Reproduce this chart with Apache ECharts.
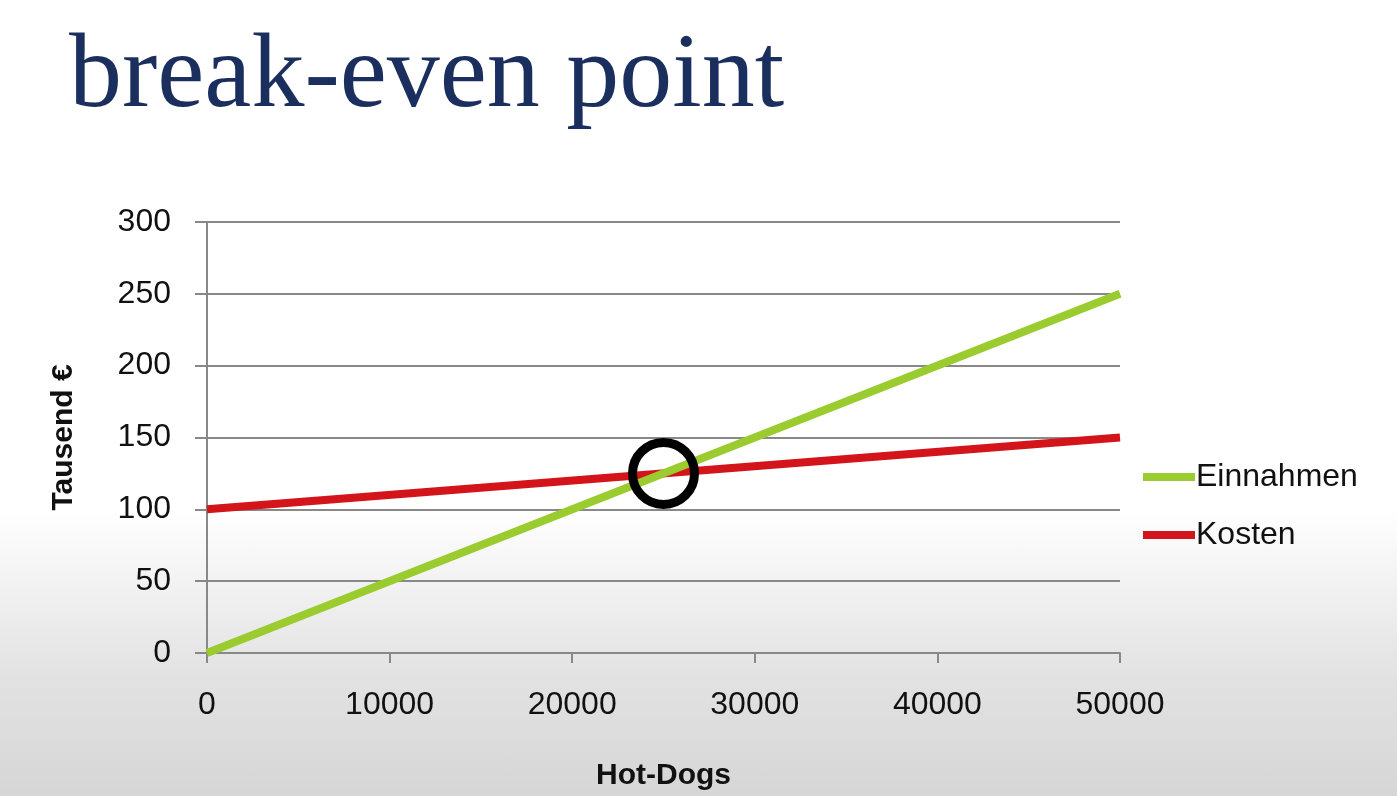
<!DOCTYPE html>
<html>
<head>
<meta charset="utf-8">
<script src="https://cdn.jsdelivr.net/npm/echarts@6/dist/echarts.min.js"></script>
<style>
  html, body { margin: 0; padding: 0; }
  body { background: linear-gradient(to bottom, #ffffff 0%, #ffffff 64%, #e2e2e2 85%, #d6d6d6 100%); }
  #chart { width: 1397px; height: 796px; }
</style>
</head>
<body>
<div id="chart"></div>
<script>
// Hot-Dogs (x) and Tausend € (y)
var hotDogs = [0, 50000];
var einnahmen = [0, 250];
var kosten = [100, 150];
var breakEven = [25000, 125];

function pairs(xs, ys) {
    var out = [];
    for (var i = 0; i < xs.length; i++) out.push([xs[i], ys[i]]);
    return out;
}

var myChart = echarts.init(document.getElementById('chart'));
myChart.setOption({
    title: {
        text: 'break-even point',
        left: 64,
        top: 20,
        textStyle: {
            fontFamily: 'Liberation Serif',
            fontWeight: 'normal',
            fontSize: 106,
            color: '#1b2f5e'
        }
    },
    legend: {
        orient: 'vertical',
        left: 1138,
        top: 456,
        itemGap: 26,
        itemWidth: 52,
        itemHeight: 8,
        icon: 'rect',
        textStyle: { fontFamily: 'Liberation Sans', fontSize: 32, color: '#111', padding: [0, 0, 0, -4] },
        data: ['Einnahmen', 'Kosten']
    },
    grid: { left: 207, right: 277, top: 222, bottom: 135 },
    xAxis: {
        type: 'value',
        min: 0, max: 50000, interval: 10000,
        name: 'Hot-Dogs',
        nameLocation: 'middle',
        nameGap: 108,
        nameTextStyle: { fontFamily: 'Liberation Sans', fontWeight: 'bold', fontSize: 30, color: '#111' },
        axisLine: { show: true, lineStyle: { color: '#888', width: 2 } },
        axisTick: { show: true, length: 10, lineStyle: { color: '#888', width: 2 } },
        axisLabel: { fontFamily: 'Liberation Sans', fontSize: 32, color: '#111', margin: 36,
            formatter: function (v) { return String(v); } },
        splitLine: { show: false }
    },
    yAxis: {
        type: 'value',
        min: 0, max: 300, interval: 50,
        name: 'Tausend €',
        nameLocation: 'middle',
        nameGap: 128,
        nameTextStyle: { fontFamily: 'Liberation Sans', fontWeight: 'bold', fontSize: 30, color: '#111' },
        axisLine: { show: true, lineStyle: { color: '#888', width: 2 } },
        axisTick: { show: true, length: 12, lineStyle: { color: '#888', width: 2 } },
        axisLabel: { fontFamily: 'Liberation Sans', fontSize: 32, color: '#111', margin: 36 },
        splitLine: { show: true, lineStyle: { color: '#888', width: 2 } }
    },
    series: [
        {
            name: 'Einnahmen',
            type: 'line',
            data: pairs(hotDogs, einnahmen),
            symbol: 'none',
            lineStyle: { color: '#9acb2f', width: 8 },
            itemStyle: { color: '#9acb2f' },
            z: 3
        },
        {
            name: 'Kosten',
            type: 'line',
            data: pairs(hotDogs, kosten),
            symbol: 'none',
            lineStyle: { color: '#d3141b', width: 8 },
            itemStyle: { color: '#d3141b' },
            z: 2
        },
        {
            type: 'scatter',
            data: [breakEven],
            symbol: 'circle',
            symbolSize: 62,
            itemStyle: { color: 'rgba(0,0,0,0)', borderColor: '#000', borderWidth: 9, opacity: 1 },
            z: 4
        }
    ]
});
</script>
</body>
</html>
